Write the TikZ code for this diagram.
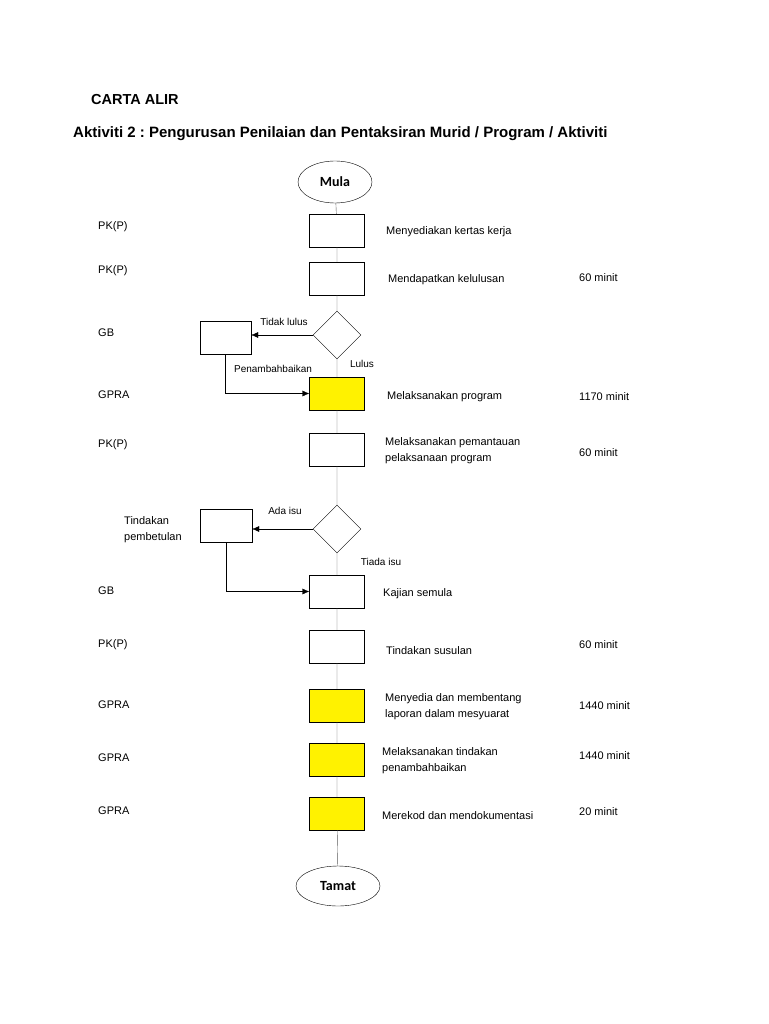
\documentclass[tikz,border=0pt]{standalone}
\usepackage{fontspec}
\setmainfont{Liberation Sans}
\newfontfamily\calibrifont{Carlito}
\usetikzlibrary{shapes.geometric, arrows.meta}
\frenchspacing

\begin{document}
\begin{tikzpicture}[> = {Latex[length=7pt, width=6pt]}, x=1pt, y=-1pt]
    \tikzset{
      block/.style={
        draw, rectangle, minimum width=55pt, minimum height=33pt, inner sep=0pt,
      },
      yblock/.style={block, fill=yellow},
      term/.style={draw, ellipse, inner sep=0pt, font=\calibrifont\bfseries\fontsize{14}{16}\selectfont},
      decision/.style={draw, diamond, minimum width=48pt, minimum height=48pt, inner sep=0pt},
      txt/.style={anchor=west, align=left, inner sep=0pt, font=\fontsize{11}{16}\selectfont},
      small/.style={inner sep=0pt, font=\fontsize{10}{12}\selectfont},
      flow/.style={draw=black!65},
    }
    \useasboundingbox (0,0) rectangle (768,1024);
    % heading
    \node (carta) [anchor=west, inner sep=0pt, font=\bfseries\fontsize{14.5}{17}\selectfont] at (91,100) {CARTA ALIR};
    \node (title) [anchor=west, inner sep=0pt, font=\bfseries\fontsize{15}{18}\selectfont] at (73,134)
      {Aktiviti 2 : Pengurusan Penilaian dan Pentaksiran Murid / Program / Aktiviti};
    % start and end
    \node (mula) [term, minimum width=74pt, minimum height=42pt] at (335,182) {Mula};
    \node (tamat) [term, minimum width=84pt, minimum height=40pt] at (338,886) {Tamat};
    % blocks
    \foreach \name/\y/\sty in {b1/230.5/block, b2/278.5/block, b3/393.5/yblock, b4/449.5/block,
                                b5/591.5/block, b6/646.5/block, b7/705.5/yblock, b8/759.5/yblock, b9/813.5/yblock} {
      \node (\name) [\sty] at (337,\y) {};
    }
    \node (d1) [decision] at (337,335) {};
    \node (d2) [decision] at (337,529) {};
    \node (gb1) [block, minimum width=51pt] at (225.5,337.5) {};
    \node (gb2) [block, minimum width=52pt] at (226,525.5) {};
    % main line
    \draw[flow] (mula) -- (b1) -- (b2) -- (d1) -- (b3) -- (b4) -- (d2) -- (b5) -- (b6) -- (b7) -- (b8) -- (b9) -- (tamat);
    % side loops
    \draw[->] (d1.west) -- (d1.west -| gb1.east);
    \draw[->] (gb1.south) |- (b3.west);
    \draw[->] (d2.west) -- (d2.west -| gb2.east);
    \draw[->] (gb2.south) |- (b5.west);
    \node (tidak) [small] at (284,322) {Tidak lulus};
    \node (penamb) [small] at (273,369) {Penambahbaikan};
    \node (lulus) [small] at (362,364) {Lulus};
    \node (ada) [small] at (285,511) {Ada isu};
    \node (tiada) [small] at (381,562) {Tiada isu};
    % roles
    \foreach[count=\i] \role/\y in {PK(P)/227, PK(P)/271, GB/333, GPRA/395, PK(P)/445,
                                    GB/591, PK(P)/645, GPRA/705, GPRA/758, GPRA/811} {
      \node (role\i) [txt] at (98,\y) {\role};
    }
    \node (pembetulan) [txt] at (124,530) {Tindakan\\pembetulan};
    % descriptions
    \node (desc1) [txt] at (386,232) {Menyediakan kertas kerja};
    \node (desc2) [txt] at (388,280) {Mendapatkan kelulusan};
    \node (desc3) [txt] at (387,397) {Melaksanakan program};
    \node (desc4) [txt] at (385,451) {Melaksanakan pemantauan\\pelaksanaan program};
    \node (desc5) [txt] at (383,594) {Kajian semula};
    \node (desc6) [txt] at (386,651) {Tindakan susulan};
    \node (desc7) [txt] at (385,707) {Menyedia dan membentang\\laporan dalam mesyuarat};
    \node (desc8) [txt] at (382,761) {Melaksanakan tindakan\\penambahbaikan};
    \node (desc9) [txt] at (382,816) {Merekod dan mendokumentasi};
    % durations
    \foreach[count=\i] \mins/\y in {60/278, 1170/397, 60/453, 60/645, 1440/706, 1440/756, 20/812} {
      \node (min\i) [txt] at (579,\y) {\mins\ minit};
    }
\end{tikzpicture}
\end{document}
